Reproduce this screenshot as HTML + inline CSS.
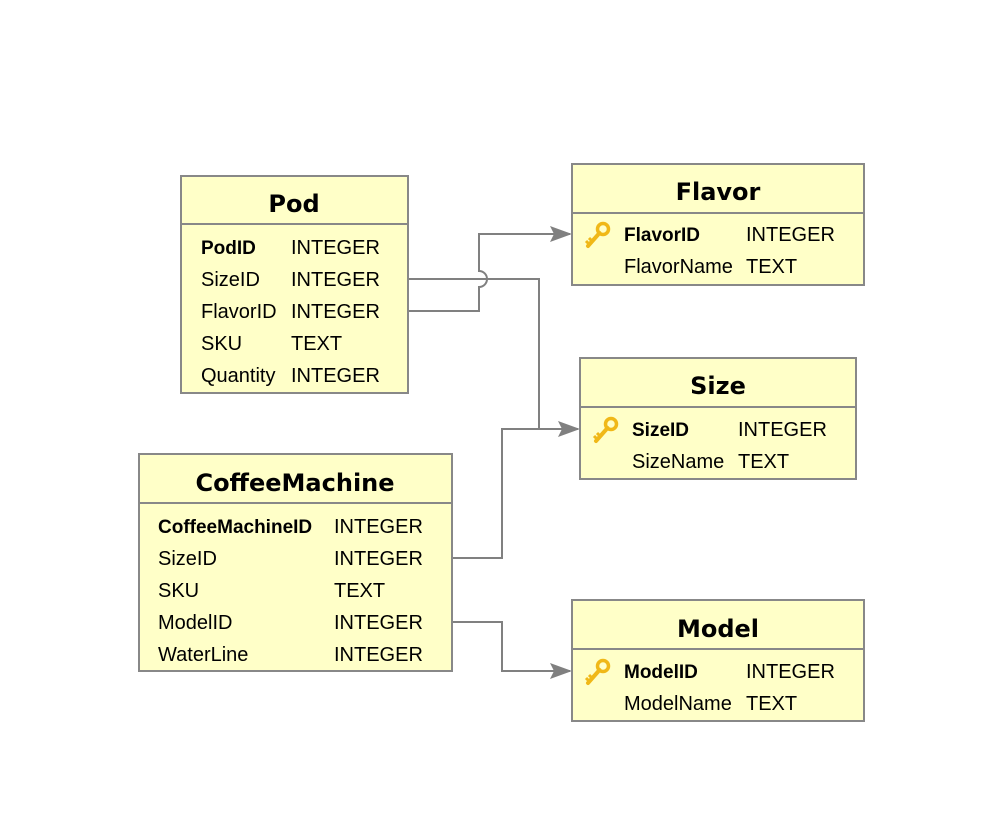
<!DOCTYPE html>
<html><head><meta charset="utf-8"><style>
html,body{margin:0;padding:0;background:#fff;}
svg{display:block}
text{font-family:"Liberation Sans",sans-serif;font-size:20px;fill:#000}
.t{font-family:"DejaVu Sans","Liberation Sans",sans-serif;font-size:24px;font-weight:bold;text-anchor:middle}
.b{font-weight:bold;font-size:19px}
</style></head><body>
<svg width="1000" height="824" viewBox="0 0 1000 824">
<defs>
<g id="key">
<circle cx="8" cy="-7" r="5.5" fill="none" stroke="#f0b818" stroke-width="3.5"/>
<line x1="4.5" y1="-3" x2="-7" y2="10" stroke="#f0b818" stroke-width="4" stroke-linecap="round"/>
<line x1="-3" y1="5" x2="-6" y2="2" stroke="#f0b818" stroke-width="3"/>
<line x1="-6" y1="8" x2="-9" y2="5" stroke="#f0b818" stroke-width="3"/>
</g>
<marker id="ar" markerWidth="22" markerHeight="16" refX="20" refY="8" orient="auto" markerUnits="userSpaceOnUse">
<path d="M0,0 L22,8 L0,16 L4,8 Z" fill="#808080"/>
</marker>
</defs>
<g fill="none" stroke="#808080" stroke-width="2">
<path d="M409,311 H479 V287 A8,8 0 0 0 479,271 V234 H570" marker-end="url(#ar)"/>
<path d="M409,279 H539 V429 H578" marker-end="url(#ar)"/>
<path d="M453,558 H502 V429 H539"/>
<path d="M453,622 H502 V671 H570" marker-end="url(#ar)"/>
</g>
<g fill="#ffffc8" stroke="#888" stroke-width="2">
<rect x="181" y="176" width="227" height="217"/>
<rect x="572" y="164" width="292" height="121"/>
<rect x="580" y="358" width="276" height="121"/>
<rect x="139" y="454" width="313" height="217"/>
<rect x="572" y="600" width="292" height="121"/>
</g>
<g stroke="#888" stroke-width="2">
<line x1="181" y1="224" x2="408" y2="224"/>
<line x1="572" y1="213" x2="864" y2="213"/>
<line x1="580" y1="407" x2="856" y2="407"/>
<line x1="139" y1="503" x2="452" y2="503"/>
<line x1="572" y1="649" x2="864" y2="649"/>
</g>
<text class="t" x="294" y="212">Pod</text>
<text class="t" x="718" y="200">Flavor</text>
<text class="t" x="718" y="394">Size</text>
<text class="t" x="295" y="491">CoffeeMachine</text>
<text class="t" x="718" y="637">Model</text>

<text class="b" x="201" y="254">PodID</text><text x="291" y="254">INTEGER</text>
<text x="201" y="286">SizeID</text><text x="291" y="286">INTEGER</text>
<text x="201" y="318">FlavorID</text><text x="291" y="318">INTEGER</text>
<text x="201" y="350">SKU</text><text x="291" y="350">TEXT</text>
<text x="201" y="382">Quantity</text><text x="291" y="382">INTEGER</text>

<use href="#key" x="595" y="236"/>
<text class="b" x="624" y="241">FlavorID</text><text x="746" y="241">INTEGER</text>
<text x="624" y="273">FlavorName</text><text x="746" y="273">TEXT</text>

<use href="#key" x="603" y="431"/>
<text class="b" x="632" y="436">SizeID</text><text x="738" y="436">INTEGER</text>
<text x="632" y="468">SizeName</text><text x="738" y="468">TEXT</text>

<text class="b" x="158" y="533">CoffeeMachineID</text><text x="334" y="533">INTEGER</text>
<text x="158" y="565">SizeID</text><text x="334" y="565">INTEGER</text>
<text x="158" y="597">SKU</text><text x="334" y="597">TEXT</text>
<text x="158" y="629">ModelID</text><text x="334" y="629">INTEGER</text>
<text x="158" y="661">WaterLine</text><text x="334" y="661">INTEGER</text>

<use href="#key" x="595" y="673"/>
<text class="b" x="624" y="678">ModelID</text><text x="746" y="678">INTEGER</text>
<text x="624" y="710">ModelName</text><text x="746" y="710">TEXT</text>
</svg>
</body></html>
